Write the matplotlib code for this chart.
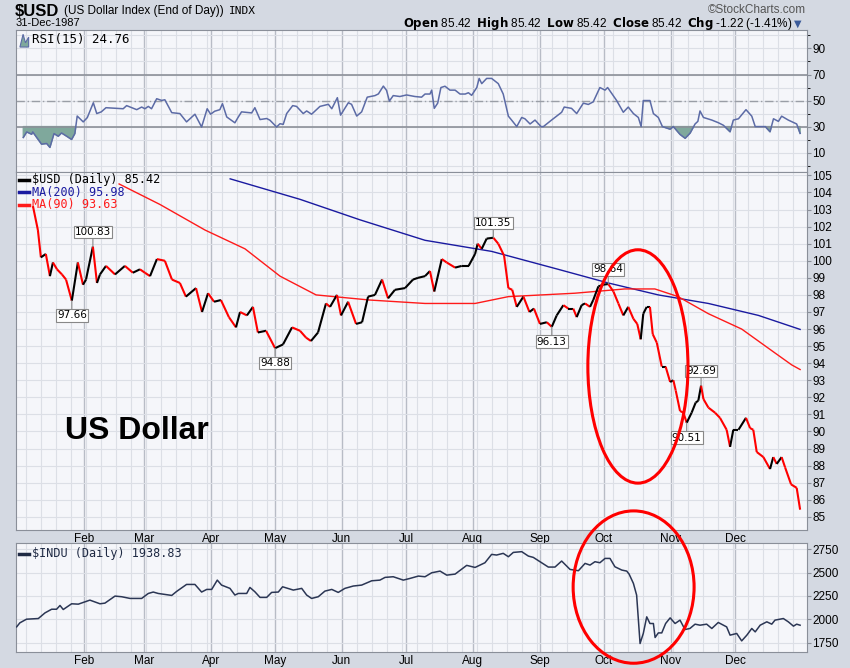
import numpy as np
import matplotlib
matplotlib.use("Agg")
import matplotlib.pyplot as plt
from matplotlib.collections import LineCollection
from matplotlib.patches import Ellipse
from matplotlib.ticker import FixedLocator

plt.rcParams['font.family'] = ['Liberation Sans', 'DejaVu Sans']

# x values are day of year 1987
usd_day = [8.2, 10.5, 11.9, 14.2, 16.1, 17.5, 19.4, 21.7, 23.6, 26.3, 29.1, 31.5, 32.9, 36.1, 38.0, 39.4,
           42.2, 46.4, 51.0, 54.7, 58.0, 60.3, 62.7, 65.9, 69.6, 72.9, 76.6, 79.4, 84.1, 86.9, 89.7, 92.5,
           95.7, 99.4, 102.7, 104.6, 107.8, 110.6, 112.9, 116.7, 120.9, 124.6, 128.8, 132.5, 135.3, 137.6,
           140.9, 144.6, 146.5, 149.7, 151.6, 154.9, 158.6, 161.4, 164.2, 167.4, 170.7, 173.5, 176.7, 181.4,
           185.1, 187.4, 190.7, 193.0, 195.0, 198.5, 200.8, 204.7, 207.8, 211.0, 214.0, 215.2, 217.1, 219.4,
           222.5, 224.8, 227.5, 229.5, 231.3, 233.4, 236.5, 239.3, 241.4, 244.2, 247.4, 249.7, 252.0, 255.1,
           257.4, 259.7, 261.3, 263.6, 265.2, 267.5, 269.0, 271.4, 273.7, 276.0, 278.4, 280.7, 283.0, 285.3,
           287.7, 289.5, 291.1, 292.3, 293.9, 295.4, 296.7, 298.6, 300.9, 302.7, 304.8, 306.3, 307.4, 309.4,
           311.0, 312.5, 314.8, 316.7, 317.9, 319.2, 320.3, 322.6, 325.7, 328.0, 331.1, 332.7, 334.2, 336.6,
           340.1, 342.0, 343.5, 345.1, 348.2, 351.3, 352.8, 354.4, 356.7, 358.3, 361.1, 363.7, 365.3]
usd_close = [103.2, 101.8, 100.2, 100.4, 99.1, 99.9, 99.5, 99.2, 98.9, 97.66, 99.9, 98.6, 98.9, 100.83, 98.7, 99.2,
             99.7, 99.2, 99.7, 99.3, 99.5, 99.3, 99.1, 100.1, 100.0, 98.9, 98.7, 97.9, 98.4, 97.0, 98.1, 97.6,
             97.7, 96.7, 96.1, 97.0, 96.8, 97.3, 95.8, 95.9, 94.88, 95.1, 96.1, 95.9, 95.5, 95.3,
             95.8, 97.5, 97.3, 98.0, 96.8, 97.6, 96.3, 96.4, 97.9, 98.0, 98.9, 97.8, 98.3, 98.4,
             98.9, 99.0, 99.1, 99.4, 98.2, 100.1, 99.9, 99.6, 99.7, 99.7, 100.4, 101.0, 100.7, 101.3,
             101.35, 101.0, 100.3, 98.4, 98.3, 97.3, 97.9, 97.0, 97.2, 96.3, 96.4, 96.13, 96.8, 97.4,
             97.2, 97.2, 96.7, 97.4, 97.5, 97.3, 97.7, 98.5, 98.6, 98.64, 98.2, 97.5, 96.8, 97.3,
             96.6, 96.3, 95.4, 96.9, 97.3, 97.3, 95.7, 95.2, 93.8, 93.8, 92.9, 93.0, 92.4, 91.2,
             91.1, 90.51, 91.1, 91.7, 91.8, 92.69, 91.9, 91.4, 91.1, 90.8, 90.1, 89.1, 90.1, 90.1,
             90.8, 90.2, 90.1, 88.8, 88.5, 87.8, 88.5, 88.1, 88.5, 87.9, 86.9, 86.7, 85.42]

ma200_day = [100.0, 132.5, 160.4, 190.7, 221.7, 252.7, 276.0, 299.3, 322.6, 345.9, 365.3]
ma200 = [104.8, 103.6, 102.4, 101.2, 100.55, 99.5, 98.7, 98.0, 97.5, 96.8, 95.98]

ma90_day = [48.3, 67.3, 88.3, 106.9, 123.2, 140.0, 165.0, 190.7, 214.0, 229.5, 260.4, 283.7, 297.7,
            308.5, 322.6, 338.1, 353.6, 361.4, 365.3]
ma90 = [104.5, 103.3, 101.8, 100.7, 99.1, 98.0, 97.7, 97.5, 97.5, 97.9, 98.1, 98.35, 98.35,
        97.9, 96.9, 96.0, 94.6, 93.9, 93.63]

rsi_day = [3.7, 5.3, 7.6, 8.1, 12.2, 14.6, 16.1, 18.0, 20.0, 21.5, 23.9, 26.2, 27.7, 28.8, 31.6, 33.5,
           36.3, 37.9, 40.0, 42.2, 50.2, 51.8, 56.5, 58.8, 60.3, 61.9, 63.4, 65.8, 68.1, 69.6, 72.8, 76.6,
           79.7, 83.6, 86.7, 89.3, 90.9, 92.8, 95.2, 96.4, 98.4, 102.2, 103.8, 105.3, 110.0, 111.5, 113.9,
           117.0, 118.5, 121.6, 123.2, 124.7, 126.3, 129.1, 130.9, 134.0, 135.6, 137.9, 141.8, 145.7, 147.3,
           149.9, 151.4, 155.0, 156.5, 158.9, 161.2, 163.8, 167.4, 169.0, 171.3, 172.8, 174.1, 175.9, 179.0,
           182.1, 186.0, 189.1, 190.7, 193.0, 193.8, 195.0, 196.6, 198.1, 200.0, 202.3, 204.7, 207.0, 209.4,
           210.9, 212.4, 214.8, 215.9, 217.1, 219.4, 221.7, 224.8, 227.1, 229.5, 231.0, 233.4, 235.7, 237.2,
           239.6, 241.9, 244.7, 245.8, 249.6, 254.3, 255.5, 258.9, 261.3, 264.4, 266.7, 269.0, 272.1, 274.5,
           275.7, 279.9, 283.0, 285.3, 287.7, 290.0, 291.3, 292.3, 295.4, 297.0, 299.3, 301.2, 304.8, 306.3,
           309.4, 311.8, 314.1, 316.4, 317.7, 318.7, 320.3, 324.2, 327.2, 329.6, 332.7, 334.2, 336.6, 340.1,
           342.8, 344.4, 349.1, 351.3, 352.9, 355.2, 356.7, 359.8, 363.7, 365.3]
rsi = [21.6, 25.9, 24.1, 25.9, 16.5, 17.0, 14.0, 24.6, 22.6, 25.1, 22.6, 20.1, 24.6, 38.1, 33.6, 36.9,
       48.3, 40.0, 41.3, 44.5, 43.7, 46.1, 43.0, 45.0, 43.7, 45.5, 43.7, 51.4, 50.1, 50.6, 40.7, 40.0,
       33.6, 39.5, 29.7, 43.7, 39.5, 41.8, 43.0, 47.6, 37.4, 32.9, 37.4, 41.3, 40.5, 44.5, 35.4,
       36.2, 34.9, 29.7, 32.2, 31.7, 40.0, 46.1, 45.5, 40.0, 42.0, 39.5, 45.5, 47.1, 43.7,
       52.2, 38.8, 48.3, 47.1, 38.1, 41.3, 52.6, 53.8, 55.1, 61.1, 57.8, 49.6, 53.8, 53.1,
       54.3, 53.1, 52.6, 55.0, 55.0, 58.0, 44.0, 48.0, 60.0, 61.0, 58.0, 58.0, 55.0, 55.0,
       56.0, 54.0, 60.0, 67.0, 63.0, 67.0, 67.0, 63.0, 55.0, 38.0, 35.0, 30.0, 37.0, 36.0,
       32.0, 35.0, 30.0, 30.0, 35.0, 41.0, 45.0, 44.0, 40.0, 48.0, 47.0, 49.0, 60.0, 58.0,
       60.0, 50.0, 41.0, 45.0, 40.0, 37.0, 30.0, 50.0, 50.0, 40.0, 37.0, 30.0, 28.0, 30.0,
       24.0, 21.0, 25.0, 32.0, 34.0, 42.0, 37.0, 35.0, 33.0, 31.0, 26.0, 35.0, 36.0, 43.0,
       38.0, 30.0, 30.0, 26.0, 36.0, 34.0, 38.0, 35.0, 32.0, 24.76]

indu_day = [0.6, 2.1, 5.2, 10.7, 13.8, 16.9, 19.2, 20.8, 22.3, 26.2, 29.3, 34.7, 39.4, 41.7, 46.4, 49.5,
            53.4, 58.8, 61.9, 64.2, 66.5, 72.8, 75.1, 79.7, 83.6, 86.7, 89.1, 91.4, 94.0, 96.0, 99.9,
            102.2, 103.8, 107.7, 109.2, 111.5, 113.9, 117.0, 119.3, 122.4, 124.4, 129.4, 133.3, 135.6,
            137.9, 141.0, 144.1, 147.3, 150.3, 153.4, 157.3, 161.2, 165.9, 169.7, 172.1, 175.9, 180.6,
            183.7, 187.6, 190.7, 193.8, 197.7, 200.8, 204.7, 210.1, 214.0, 218.6, 221.7, 224.0, 227.1,
            229.5, 231.8, 235.7, 238.8, 241.1, 244.2, 248.1, 251.2, 254.3, 258.2, 262.1, 265.2, 267.5,
            269.8, 272.1, 274.5, 276.8, 279.1, 282.3, 284.6, 285.7, 287.7, 289.2, 290.8, 292.3, 293.9,
            295.4, 297.0, 297.8, 299.3, 300.9, 302.7, 304.8, 307.1, 309.4, 311.7, 314.0, 316.4, 318.7,
            321.8, 324.2, 327.2, 331.1, 332.7, 335.8, 338.1, 340.5, 342.8, 344.4, 346.7, 349.8, 352.1,
            353.6, 357.5, 359.8, 362.2, 363.7, 365.3]
indu = [1921, 1964, 2003, 2010, 2070, 2109, 2109, 2149, 2106, 2167, 2163, 2206, 2167, 2174, 2249, 2242,
        2224, 2224, 2277, 2292, 2277, 2256, 2299, 2373, 2373, 2292, 2320, 2320, 2419, 2366, 2331,
        2260, 2277, 2277, 2341, 2295, 2235, 2235, 2288, 2292, 2348, 2313, 2331, 2260,
        2224, 2242, 2302, 2320, 2288, 2331, 2356, 2366, 2412, 2419, 2448, 2455, 2419,
        2437, 2462, 2455, 2497, 2515, 2472, 2483, 2576, 2554, 2604, 2693, 2686, 2704,
        2668, 2714, 2722, 2675, 2661, 2615, 2558, 2558, 2622, 2533, 2519, 2597, 2579,
        2615, 2604, 2650, 2650, 2561, 2526, 2515, 2483, 2384, 2259, 1744, 1851, 2028,
        1957, 1957, 1808, 1857, 1857, 1957, 2017, 1957, 1993, 1893, 1904, 1950, 1939,
        1950, 1904, 1968, 1921, 1833, 1851, 1772, 1833, 1904, 1868, 1939, 1975, 1950,
        1993, 2010, 1975, 1929, 1950, 1938.83]

label_day = [26.3, 36.1, 120.9, 222.5, 249.7, 276.0, 312.5, 319.2]
label_value = [97.66, 100.83, 94.88, 101.35, 96.13, 98.64, 90.51, 92.69]
label_above = [False, True, False, True, False, True, False, True]

month_day = [32, 60, 91, 121, 152, 182, 213, 244, 274, 305, 335]
month_names = ["Feb", "Mar", "Apr", "May", "Jun", "Jul", "Aug", "Sep", "Oct", "Nov", "Dec"]
week_day = list(range(5, 366, 7))

BG = "#d4d9e2"
PANEL = "#f5f6fa"
EDGE = "#8a8f99"
XLIM = (0.3, 368.5)
MONO = ['DejaVu Sans Mono', 'DejaVu Sans']

fig = plt.figure(figsize=(8.5, 6.68), dpi=100, facecolor=BG)
ax_rsi = fig.add_axes([0.0188, 0.7425, 0.9306, 0.2126])
ax_main = fig.add_axes([0.0188, 0.2066, 0.9306, 0.5359])
ax_indu = fig.add_axes([0.0188, 0.0240, 0.9306, 0.1631])


def style_panel(ax, yticks, ylim):
    ax.set_facecolor(PANEL)
    ax.set_xlim(*XLIM)
    ax.set_ylim(*ylim)
    ax.yaxis.tick_right()
    ax.set_yticks(yticks)
    ax.tick_params(axis='y', labelsize=8.5, length=3, color=EDGE, pad=1)
    ax.xaxis.set_major_locator(FixedLocator(month_day))
    ax.xaxis.set_minor_locator(FixedLocator(week_day))
    ax.grid(which='minor', axis='x', color="#dcdfe6", lw=0.8)
    ax.grid(which='major', axis='x', color="#b8bcc6", lw=1.0)
    ax.grid(which='major', axis='y', color="#dcdfe6", lw=0.8)
    ax.set_axisbelow(True)
    for s in ax.spines.values():
        s.set_color(EDGE)
    ax.tick_params(axis='x', which='both', length=0)


def legend_entry(ax, y, text, color):
    ax.plot([0.004, 0.016], [y, y], transform=ax.transAxes, color=color, lw=2.5, clip_on=False)
    ax.text(0.02, y, text, transform=ax.transAxes, fontsize=8.5, family=MONO, va='center',
            ha='left', color=color)


# RSI panel
style_panel(ax_rsi, [10, 30, 50, 70, 90], (-4.9, 104.2))
ax_rsi.set_yticks([0, 20, 40, 60, 80, 100], minor=True)
ax_rsi.grid(which='minor', axis='y', color="#dcdfe6", lw=0.8)
ax_rsi.set_xticklabels([])
rd = np.array(rsi_day)
rv = np.array(rsi)
ax_rsi.fill_between(rd, rv, 30, where=rv < 30, interpolate=True, color="#7fa89c", zorder=2)
ax_rsi.axhline(70, color="#8c9099", lw=1.2)
ax_rsi.axhline(30, color="#8c9099", lw=1.2)
ax_rsi.axhline(50, color="#9a9ea6", lw=1.0, ls=(0, (6, 2, 1, 2)))
ax_rsi.plot(rd, rv, color="#5c6ba6", lw=1.1, zorder=3)
ax_rsi.text(0.02, 0.93, "RSI(15) 24.76", transform=ax_rsi.transAxes, fontsize=9,
            family=MONO, va='center', ha='left')
ax_rsi.fill([0.005, 0.009, 0.012, 0.016, 0.016, 0.005], [0.88, 0.97, 0.91, 0.95, 0.88, 0.88],
            transform=ax_rsi.transAxes, color="#7fa89c", ec="#5c6ba6", lw=0.8)

# main panel
style_panel(ax_main, range(85, 106), (84.23, 105.2))
ax_main.set_xticklabels(month_names)
ax_main.tick_params(axis='x', labelsize=8.5, pad=2)
ax_main.plot(ma200_day, ma200, color="#1a1aa0", lw=1.0, zorder=3)
ax_main.plot(ma90_day, ma90, color="#ff1a1a", lw=1.0, zorder=3)
pts = np.column_stack([usd_day, usd_close])
segs = np.stack([pts[:-1], pts[1:]], axis=1)
cols = ["#ff0000" if b < a else "#000000" for a, b in zip(usd_close[:-1], usd_close[1:])]
ax_main.add_collection(LineCollection(segs, colors=cols, linewidths=1.5, zorder=4))

for d, v, above in zip(label_day, label_value, label_above):
    off = 7 if above else -7
    ax_main.annotate(f"{v:.2f}", (d, v), xytext=(0, off), textcoords='offset points',
                     ha='center', va='bottom' if above else 'top', fontsize=7.5,
                     family=['DejaVu Sans', 'Liberation Sans'],
                     bbox=dict(boxstyle='square,pad=0.12', fc='white', ec='#888888', lw=0.8),
                     arrowprops=dict(arrowstyle='-', color='#888888', lw=0.8, shrinkA=0, shrinkB=0),
                     zorder=6)

legend_entry(ax_main, 0.978, "$USD (Daily) 85.42", "black")
legend_entry(ax_main, 0.943, "MA(200) 95.98", "#1a1aa0")
legend_entry(ax_main, 0.908, "MA(90) 93.63", "#ff1a1a")
ax_main.text(23, 90.0, "US Dollar", fontsize=23, fontweight='bold', va='center', ha='left')
ax_main.add_patch(Ellipse((289.8, 93.81), 46.6, 13.67, fill=False, ec='#ff0000', lw=2.2,
                          zorder=7, clip_on=False))

# INDU panel
style_panel(ax_indu, [1750, 2000, 2250, 2500, 2750], (1654, 2814))
ax_indu.set_xticklabels(month_names)
ax_indu.tick_params(axis='x', labelsize=8.5, pad=2)
ax_indu.plot(indu_day, indu, color="#2b3654", lw=1.1, zorder=3)
legend_entry(ax_indu, 0.9, "$INDU (Daily) 1938.83", "#1f2a44")
ax_indu.add_patch(Ellipse((287.8, 2345), 56.3, 1622, fill=False, ec='#ff0000', lw=2.2,
                          zorder=7, clip_on=False))

# header
t_sym = fig.text(15 / 850, 1 - 11 / 668, "$USD", fontsize=12, fontweight='bold', va='center')
t_name = fig.text(0, 0, "(US Dollar Index (End of Day))", fontsize=8.5, va='center')
t_name.set_position((0, 0))
a_name = fig.add_artist(plt.Annotation("(US Dollar Index (End of Day))", xy=(1, 0.5), xycoords=t_sym,
                                       xytext=(3, 0), textcoords='offset points', fontsize=8.5,
                                       va='center'))
t_name.remove()
fig.add_artist(plt.Annotation("INDX", xy=(1, 0.5), xycoords=a_name, xytext=(4, 0),
                              textcoords='offset points', fontsize=8, va='center', family=MONO))
fig.text(16 / 850, 1 - 23.5 / 668, "31-Dec-1987", fontsize=8, va='center')
fig.text(806 / 850, 1 - 10 / 668, "\u00a9StockCharts.com", fontsize=8.5, va='center', ha='right',
         color='#555555')
fig.text(792 / 850, 1 - 23.5 / 668,
         r"$\bf{Open}$ 85.42  $\bf{High}$ 85.42  $\bf{Low}$ 85.42  $\bf{Close}$ 85.42  $\bf{Chg}$ -1.22 (-1.41%)",
         fontsize=8.5, va='center', ha='right')
fig.text(794 / 850, 1 - 23.5 / 668, "\u25bc", fontsize=7, va='center', ha='left', color="#3a5a9a",
         family=['DejaVu Sans'])

fig.savefig("out.png", dpi=100, facecolor=BG)
